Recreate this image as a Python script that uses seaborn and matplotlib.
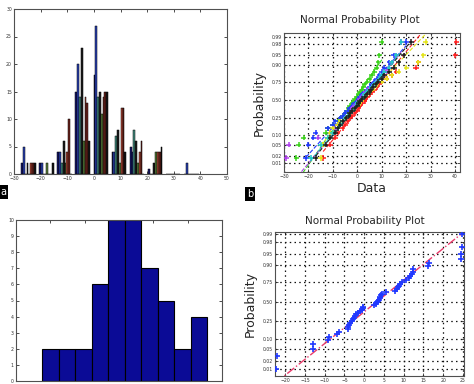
import numpy as np
import pandas as pd
import matplotlib
matplotlib.use("Agg")
import matplotlib.pyplot as plt
import seaborn as sns
from statistics import NormalDist

# ---------------- data ----------------
# Panel a: grouped histogram (10 bins, 8 columns)
hist_centers = [-24.6, -17.8, -11.0, -4.2, 2.6, 9.4, 16.2, 23.0, 29.8, 36.6]
hist_s1 = [2, 2, 4, 15, 18, 4, 5, 1, 0, 0]
hist_s2 = [5, 2, 4, 20, 27, 4, 4, 0, 0, 2]
hist_s3 = [0, 0, 2, 14, 14, 7, 8, 0, 0, 0]
hist_s4 = [2, 0, 6, 23, 15, 8, 6, 2, 0, 0]
hist_s5 = [0, 2, 2, 6, 11, 2, 2, 4, 0, 0]
hist_s6 = [2, 0, 4, 14, 14, 12, 4, 4, 0, 0]
hist_s7 = [2, 0, 10, 13, 15, 12, 6, 4, 0, 0]
hist_s8 = [2, 2, 0, 6, 15, 4, 0, 5, 0, 0]
hist_colors = ['#0a0a78', '#1232c8', '#3a9a88', '#1c1c1c',
               '#5a8a30', '#c03520', '#7a1810', '#161616']

# Panel b: several columns in a normal probability plot
b_green = [-25, -24, -22, -13, -12, -10, -8, -7, -6, -5, -4, -3.5, -3, -2, -1.5,
           -1, 0, 0.5, 1, 2, 2.5, 3, 4, 5, 6, 7, 8, 8.5, 9, 10]
b_blue = [-21, -20, -18, -17, -12, -10, -9, -7, -6, -5, -4, -3, -2, -1, 0,
          0.5, 1, 2, 3, 4, 5, 6, 7, 8, 9, 10, 11, 13, 15, 20]
b_purple = [-29, -28, -16, -11, -9, -8, -6, -5, -4, -3, -2.5, -2, -1, 0, 0.5,
            1, 2, 3, 3.5, 4.5, 6, 7, 8, 9, 11, 12, 13, 14, 16, 18]
b_red = [-14, -11, -9, -8, -6, -5, -4, -3, -2, -1, 0, 0.5, 1, 2, 3,
         3.5, 4, 5, 6, 7, 8, 9, 10, 12, 14, 16, 24, 25, 40, 40.5]
b_yellow = [-15, -14, -12, -11, -10, -8, -7, -5, -4, -3, -2, -1, 0, 1, 1.5,
            2, 3, 4, 5, 6, 7, 8, 10, 12, 14, 17, 20, 25, 27, 28]
b_cyan = [-19, -15, -12, -10, -8, -7, -6, -5, -4, -3, -2, -1, -0.5, 0, 1,
          2, 2.5, 3, 4, 5, 6, 7, 8, 9, 10, 11, 13, 14, 16, 18]
b_black = [-17, -13, -11, -9, -8, -7, -6, -4.5, -3.5, -3, -2, -1, 0, 0.5, 1,
           2, 3, 4, 5, 5.5, 6.5, 7.5, 8.5, 10, 11, 13, 15, 17, 19, 22]
b_colors = {'green': '#3ad21a', 'blue': '#2038ff', 'purple': '#b040f0',
            'red': '#ff2020', 'yellow': '#e4e41a', 'cyan': '#20c8c8',
            'black': '#202020'}

# Panels c and d: single sample of 50 values
d_values = [-22.4, -22.0, -13.0, -12.9, -9.2, -9.0, -6.9, -6.5, -4.2, -4.0,
            -3.8, -3.5, -3.0, -2.8, -2.6, -2.3, -2.0, -1.5, -1.0, -0.6,
            -0.4, -0.2, 2.5, 3.0, 3.3, 3.5, 3.7, 3.9, 4.0, 4.2,
            4.5, 5.5, 7.8, 8.2, 8.5, 8.8, 9.0, 9.5, 10.5, 11.3,
            11.5, 12.0, 12.3, 12.5, 16.2, 16.4, 24.5, 24.6, 24.7, 24.8]

prob_ticks = [0.01, 0.02, 0.05, 0.10, 0.25, 0.50, 0.75, 0.90, 0.95, 0.98, 0.99]
prob_labels = ['0.01', '0.02', '0.05', '0.10', '0.25', '0.50', '0.75',
               '0.90', '0.95', '0.98', '0.99']

# ---------------- style ----------------
sns.set_style("ticks")
plt.rcParams['font.family'] = ['DejaVu Sans']
nd = NormalDist()


def zscores(vals):
    v = np.sort(np.asarray(vals, dtype=float))
    n = len(v)
    return v, np.array([nd.inv_cdf((i + 0.5) / n) for i in range(n)])


def frame(ax):
    for s in ax.spines.values():
        s.set_color('#505050')
        s.set_linewidth(0.8)
    ax.tick_params(direction='in', top=True, right=True, length=2,
                   width=0.6, labelsize=3.3, colors='#303030', pad=1.5)


def ref_line(ax, vals, color, lw=0.9, ls='--'):
    v = np.asarray(vals, dtype=float)
    q1, q3 = np.percentile(v, [25, 75])
    z1, z3 = nd.inv_cdf(0.25), nd.inv_cdf(0.75)
    slope = (z3 - z1) / (q3 - q1)
    xs = np.array([v.min(), v.max()])
    ax.plot(xs, z1 + (xs - q1) * slope, color=color, lw=lw, ls=ls, zorder=2)


grid_kw = dict(color='#111111', linestyle=(0, (1.2, 2.6)), linewidth=0.9)

fig = plt.figure(figsize=(4.74, 3.84), dpi=100)
W, H = 474.0, 384.0


def add_axes(l, t, r, b):
    return fig.add_axes([l / W, 1 - b / H, (r - l) / W, (b - t) / H])


# ---------------- panel a ----------------
axA = add_axes(14, 9, 227, 174)
series_lists = [hist_s1, hist_s2, hist_s3, hist_s4, hist_s5, hist_s6, hist_s7, hist_s8]
names = [f"s{i+1}" for i in range(8)]
rows = []
for nm, lst in zip(names, series_lists):
    for c, h in zip(hist_centers, lst):
        rows.append({'center': c, 'series': nm, 'count': h})
dfa = pd.DataFrame(rows)
sns.barplot(data=dfa, x='center', y='count', hue='series', hue_order=names,
            native_scale=True, palette=dict(zip(names, hist_colors)),
            width=0.8, gap=0, errorbar=None, edgecolor='black',
            linewidth=0.35, legend=False, ax=axA)
axA.set_xlim(-30, 50)
axA.set_ylim(0, 30)
axA.set_xticks(range(-30, 51, 10))
axA.set_yticks(range(0, 31, 5))
axA.set_xlabel('')
axA.set_ylabel('')
frame(axA)

# ---------------- panel b ----------------
axB = add_axes(284, 33, 460, 172)
brows = []
for nm, lst in [('green', b_green), ('blue', b_blue), ('purple', b_purple),
                ('red', b_red), ('yellow', b_yellow), ('cyan', b_cyan),
                ('black', b_black)]:
    v, z = zscores(lst)
    for a, b in zip(v, z):
        brows.append({'series': nm, 'value': a, 'z': b})
    ref_line(axB, lst, b_colors[nm], lw=0.8)
dfb = pd.DataFrame(brows)
axB.grid(True, **grid_kw)
axB.set_axisbelow(True)
sns.scatterplot(data=dfb, x='value', y='z', hue='series', palette=b_colors,
                marker='+', s=14, linewidth=1.1, legend=False, ax=axB, zorder=3)
axB.set_xlim(-30, 42)
axB.set_ylim(-2.64, 2.46)
axB.set_xticks(range(-30, 41, 10))
axB.set_yticks([nd.inv_cdf(p) for p in prob_ticks])
axB.set_yticklabels(prob_labels)
axB.set_title('Normal Probability Plot', fontsize=7.5, x=0.43, pad=7)
axB.set_xlabel('Data', fontsize=9, labelpad=2)
axB.set_ylabel('Probability', fontsize=9, labelpad=4)
frame(axB)

# ---------------- panel c ----------------
axC = add_axes(16, 220, 222, 381)
sns.histplot(x=d_values, bins=10, binrange=(-22.4, 25.7), color='#0b0b96',
             edgecolor='black', linewidth=0.8, alpha=1, ax=axC)
axC.set_xlim(-30, 30)
axC.set_ylim(0, 10)
axC.set_yticks(range(0, 11))
axC.set_xticks(range(-30, 31, 10))
axC.set_ylabel('')
axC.set_xlabel('')
frame(axC)
axC.tick_params(labelbottom=False)

# ---------------- panel d ----------------
axD = add_axes(275, 232, 464, 376)
vd, zd = zscores(d_values)
axD.grid(True, **grid_kw)
axD.set_axisbelow(True)
ref_line(axD, d_values, '#e83a6a', lw=1.0, ls='-.')
sns.scatterplot(x=vd, y=zd, color='#2038ff', marker='+', s=18, linewidth=1.2,
                ax=axD, zorder=3)
axD.set_xlim(-22.6, 25.3)
axD.set_ylim(-2.57, 2.41)
axD.set_xticks(range(-20, 26, 5))
axD.set_yticks([nd.inv_cdf(p) for p in prob_ticks])
axD.set_yticklabels(prob_labels)
axD.set_title('Normal Probability Plot', fontsize=7.5, x=0.476, pad=6)
axD.set_ylabel('Probability', fontsize=9, labelpad=4)
axD.set_xlabel('')
frame(axD)

# ---------------- panel labels ----------------
fig.text(0.4 / W, 1 - 195 / H, 'a', color='white', fontsize=7,
         bbox=dict(facecolor='black', edgecolor='none', pad=1.2))
fig.text(247 / W, 1 - 197 / H, 'b', color='white', fontsize=7,
         bbox=dict(facecolor='black', edgecolor='none', pad=1.2))

fig.savefig('out.png', dpi=100)
